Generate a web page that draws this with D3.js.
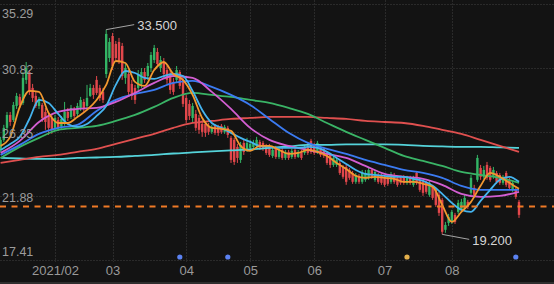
<!DOCTYPE html>
<html>
<head>
<meta charset="utf-8">
<script src="https://cdn.jsdelivr.net/npm/d3@7"></script>
<style>
  html, body { margin: 0; padding: 0; background: #131313; overflow: hidden; }
  svg { display: block; }
</style>
</head>
<body>
<script>
"use strict";

// daily candles, mid Jan 2021 -> end Aug 2021 (163 sessions)
const opens = [
  25.10,25.80,26.64,27.54,27.19,28.17,28.80,28.38,29.99,30.54,
  29.43,28.87,28.17,28.24,27.75,27.47,27.33,26.64,27.19,26.71,
  26.91,27.75,27.40,27.89,27.61,28.03,28.45,28.17,28.87,29.43,
  29.99,29.43,29.15,30.40,31.52,33.06,32.50,32.64,32.36,30.13,
  30.40,29.71,29.43,29.43,29.71,30.54,30.26,30.82,31.38,31.94,
  30.82,31.24,30.68,30.40,29.85,29.99,30.54,29.99,28.73,28.31,
  27.33,27.61,27.33,26.91,26.91,26.78,26.36,26.78,26.71,26.78,
  26.36,26.64,25.94,25.80,25.31,24.40,25.59,25.10,25.24,25.31,
  25.38,25.66,25.59,25.38,25.38,24.68,25.24,24.61,25.10,24.54,
  24.96,24.61,25.10,24.61,24.96,24.89,25.31,25.73,25.45,24.96,
  25.24,25.17,24.89,24.75,24.05,24.05,24.19,23.91,23.91,23.70,
  23.49,22.87,23.29,22.87,23.01,23.15,23.70,23.01,23.35,23.29,
  23.22,23.15,22.87,23.35,23.15,23.15,23.22,22.80,23.15,22.66,
  23.49,23.01,22.87,22.80,21.96,22.52,22.31,21.96,21.61,19.52,
  20.00,20.07,20.56,20.77,20.91,21.05,21.47,22.10,22.45,23.01,
  23.84,23.22,24.05,23.84,23.22,23.49,23.35,22.80,23.49,23.01,
  22.31,22.31,21.47];
const closes = [
  25.80,26.64,27.54,27.05,28.24,28.87,28.24,30.13,30.82,29.15,
  28.73,28.17,28.66,27.33,27.05,26.64,26.50,27.33,26.64,27.26,
  27.75,27.33,28.03,27.47,28.17,28.59,27.96,28.73,29.43,28.94,
  29.08,28.73,28.59,33.20,32.64,30.96,31.52,31.24,30.26,30.82,
  29.15,28.87,28.59,30.40,30.54,29.99,30.96,31.73,32.22,31.10,
  31.38,30.40,29.99,29.29,29.15,30.68,29.57,28.31,27.19,27.47,
  28.17,26.64,26.50,26.36,26.29,26.36,26.71,26.29,26.29,26.36,
  26.71,26.15,24.40,24.26,24.54,25.45,24.96,25.59,25.52,25.59,
  25.80,25.24,25.17,24.89,24.75,25.10,24.61,25.10,24.54,24.96,
  24.54,25.03,24.61,24.96,24.54,25.31,24.89,24.96,24.89,25.59,
  24.75,24.68,24.19,24.05,24.54,24.40,23.49,23.22,22.87,23.15,
  22.87,23.35,22.87,23.56,23.49,23.70,23.22,23.56,22.87,22.80,
  22.66,22.73,23.42,22.87,22.66,22.80,22.80,23.15,22.80,23.15,
  22.80,22.31,22.10,22.17,22.80,21.75,21.26,20.70,19.38,19.86,
  20.42,20.77,20.07,21.40,21.47,21.75,21.12,23.15,21.96,24.54,
  23.22,23.70,23.15,23.01,23.70,22.87,22.80,23.22,22.66,22.45,
  22.80,21.82,20.56];
const highs = [
  26.01,26.85,27.75,27.75,28.45,29.08,29.01,30.54,31.24,30.68,
  29.71,29.15,28.80,28.38,28.03,27.68,27.54,27.54,27.40,27.47,
  28.45,28.03,28.24,28.10,28.38,28.80,28.66,29.64,29.71,29.64,
  30.26,29.64,29.43,33.50,32.92,33.27,32.71,32.92,32.57,31.10,
  30.68,29.99,29.64,30.68,30.82,30.82,31.17,31.94,32.43,32.22,
  31.66,31.52,30.96,30.68,30.13,30.96,30.68,30.26,28.94,28.59,
  28.38,27.89,27.54,27.19,27.12,26.98,26.85,26.91,26.85,26.91,
  26.85,26.78,26.08,25.94,25.52,25.66,25.80,25.94,25.80,25.80,
  26.01,25.80,25.73,25.52,25.52,25.24,25.38,25.24,25.24,25.10,
  25.10,25.17,25.24,25.10,25.10,25.45,25.66,25.87,25.59,25.73,
  25.38,25.31,25.03,24.89,24.68,24.54,24.33,24.05,24.05,23.84,
  23.63,23.49,23.42,23.70,23.70,23.84,23.84,23.70,23.49,23.42,
  23.35,23.29,23.56,23.49,23.29,23.29,23.35,23.29,23.29,23.29,
  23.63,23.15,23.01,22.94,22.94,22.66,22.45,22.17,21.75,20.07,
  20.63,20.91,20.70,21.61,21.68,21.96,21.61,23.35,22.66,24.75,
  24.05,23.98,24.26,23.98,23.91,23.63,23.49,23.35,23.63,23.15,
  22.94,22.45,21.61];
const lows = [
  24.96,25.66,26.50,26.78,27.05,27.96,28.03,28.24,29.71,28.94,
  28.45,28.03,27.96,27.05,26.50,26.15,26.22,26.43,26.43,26.57,
  26.78,27.12,27.26,27.33,27.40,27.82,27.75,28.03,28.80,28.66,
  28.94,28.52,28.38,30.13,31.24,30.68,31.38,31.10,29.99,29.71,
  28.87,28.59,28.31,29.15,29.43,29.78,29.99,30.54,31.17,30.89,
  30.54,30.13,29.71,29.01,28.94,29.78,29.36,28.10,26.98,27.19,
  27.05,26.43,26.22,26.01,26.01,26.15,26.22,26.15,26.08,26.22,
  26.22,25.94,24.19,24.05,24.19,24.19,24.75,24.96,25.10,25.17,
  25.24,25.10,25.03,24.75,24.61,24.54,24.47,24.47,24.40,24.40,
  24.40,24.47,24.47,24.54,24.40,24.75,24.75,24.82,24.75,24.82,
  24.61,24.54,24.05,23.84,23.91,23.91,23.35,23.08,22.66,23.01,
  22.73,22.73,22.73,22.73,22.87,23.01,23.08,22.87,22.73,22.66,
  22.52,22.59,22.73,22.73,22.52,22.66,22.66,22.66,22.66,22.52,
  22.66,22.17,21.89,22.03,21.82,21.61,21.12,20.49,19.20,19.31,
  19.79,19.93,19.93,20.63,20.77,20.91,20.98,21.96,21.82,22.87,
  23.01,23.08,23.01,22.87,23.08,22.73,22.66,22.66,22.52,22.31,
  22.17,21.68,20.35];

const fastIdx = d3.range(0, 163, 3);
const slowIdx = d3.range(0, 163, 6);
const ma5 = [25.38,26.01,28.10,29.22,29.15,27.68,26.98,26.98,27.40,27.89,
  28.59,29.64,31.31,31.17,29.85,29.57,30.68,31.24,30.40,29.99,
  28.94,27.33,26.64,26.57,26.43,25.38,25.03,25.38,25.38,25.10,
  24.82,24.89,25.10,24.96,24.68,24.19,23.77,23.29,23.15,23.22,
  23.15,23.08,22.87,22.87,22.73,22.52,21.26,20.07,20.77,21.47,
  22.59,23.49,23.22,22.80,22.38];
const ma10 = [25.10,25.52,26.01,27.26,28.59,28.38,27.61,26.91,26.71,26.91,
  27.47,28.17,29.64,30.61,30.47,30.13,30.06,30.26,30.40,30.26,
  29.22,27.89,26.98,26.64,26.29,25.94,25.66,25.38,25.31,25.24,
  25.24,25.24,25.31,25.24,24.96,24.54,24.12,23.70,23.42,23.35,
  23.29,23.22,23.22,23.08,22.94,22.59,22.03,21.40,20.91,20.77,
  21.54,22.31,23.01,23.22,22.87];
const ma20 = [24.89,25.73,27.05,27.75,27.96,28.03,28.45,29.08,29.78,30.26,
  30.13,29.15,27.96,26.64,25.80,25.38,25.10,24.82,24.54,23.98,
  23.42,23.22,23.08,22.66,22.03,21.82,21.89,22.17];
const ma30 = [24.75,25.45,26.22,26.64,26.85,27.82,28.59,29.01,29.29,29.78,
  29.92,29.50,28.94,28.24,27.26,26.29,25.59,25.17,24.82,24.40,
  24.05,23.70,23.49,23.15,22.59,22.31,22.31,22.31];
const ma60 = [24.54,25.31,25.94,26.50,26.64,26.78,27.12,27.54,28.10,28.73,
  29.08,28.94,28.80,28.59,28.38,28.03,27.61,26.98,26.36,25.80,
  25.24,24.68,24.33,23.98,23.56,23.35,23.15,22.80];
const ma120 = [24.19,24.40,24.61,24.75,24.96,25.17,25.52,25.87,26.22,26.64,
  26.98,27.12,27.26,27.33,27.40,27.40,27.40,27.33,27.26,27.12,
  27.05,26.98,26.78,26.50,26.22,25.80,25.38,24.96];
const ma250 = [24.54,24.50,24.47,24.47,24.54,24.57,24.61,24.68,24.75,24.85,
  24.92,24.99,25.06,25.13,25.24,25.34,25.45,25.45,25.48,25.48,
  25.48,25.45,25.38,25.34,25.31,25.31,25.27,25.24];

const yTicks = [17.41, 21.88, 26.35, 30.82, 35.29];
const monthIdx = [17, 35, 58, 78, 98, 120, 141];
const monthLabels = ["2021/02", "03", "04", "05", "06", "07", "08"];
const eventIdx = [56, 71, 127, 161];
const eventKind = ["blue", "blue", "yellow", "blue"];
const refPrice = 21.15;

const width = 554, height = 284;
const font = "'Liberation Sans', Arial, sans-serif";
const upColor = "#33b565", downColor = "#e2474b";

const svg = d3.select("body").append("svg")
    .attr("width", width)
    .attr("height", height);

svg.append("rect")
    .attr("width", width)
    .attr("height", height)
    .attr("fill", "#131313");

const x = d3.scaleLinear().domain([0, closes.length - 1]).range([0.6, 519]);
const y = d3.scaleLinear().domain([17.41, 35.29]).range([260, 4]);

// grid
svg.append("g").selectAll("line").data(yTicks).join("line")
    .attr("x1", 0).attr("x2", width)
    .attr("y1", d => Math.round(y(d)) + 0.5)
    .attr("y2", d => Math.round(y(d)) + 0.5)
    .attr("stroke", "#2a2a2a")
    .attr("stroke-dasharray", "2,1");
svg.append("g").selectAll("line").data(monthIdx).join("line")
    .attr("x1", d => Math.round(x(d)) + 0.5)
    .attr("x2", d => Math.round(x(d)) + 0.5)
    .attr("y1", 0).attr("y2", 262)
    .attr("stroke", "#2a2a2a")
    .attr("stroke-dasharray", "2,1");

// candles
const candles = svg.append("g").selectAll("g").data(closes).join("g")
    .attr("fill", (c, i) => c >= opens[i] ? upColor : downColor)
    .attr("stroke", (c, i) => c >= opens[i] ? upColor : downColor);
candles.append("line")
    .attr("x1", (c, i) => x(i)).attr("x2", (c, i) => x(i))
    .attr("y1", (c, i) => y(highs[i]))
    .attr("y2", (c, i) => y(lows[i]))
    .attr("stroke-width", 1);
candles.append("rect")
    .attr("stroke", "none")
    .attr("x", (c, i) => x(i) - 1.2)
    .attr("width", 2.4)
    .attr("y", (c, i) => y(Math.max(c, opens[i])))
    .attr("height", (c, i) => Math.max(1, Math.abs(y(c) - y(opens[i]))));

// moving averages
const maSeries = [
  {vals: ma250, idx: slowIdx, color: "#55d3da"},
  {vals: ma120, idx: slowIdx, color: "#e0504f"},
  {vals: ma60, idx: slowIdx, color: "#3ab466"},
  {vals: ma30, idx: slowIdx, color: "#3b7bf2"},
  {vals: ma20, idx: slowIdx, color: "#d35ed2"},
  {vals: ma10, idx: fastIdx, color: "#45b4ef"},
  {vals: ma5, idx: fastIdx, color: "#f2982f"}
];
maSeries.forEach(s => {
  const line = d3.line()
      .x((d, k) => x(s.idx[k]))
      .y(d => y(d))
      .curve(d3.curveMonotoneX);
  svg.append("path")
      .attr("d", line(s.vals))
      .attr("fill", "none")
      .attr("stroke", s.color)
      .attr("stroke-width", 1.8);
});

// reference price dashed line
svg.append("line")
    .attr("x1", 0).attr("x2", width)
    .attr("y1", y(refPrice)).attr("y2", y(refPrice))
    .attr("stroke", "#f07a26")
    .attr("stroke-width", 2)
    .attr("stroke-dasharray", "6,5.5");

// max / min labels
const maxI = d3.maxIndex(highs), minI = d3.minIndex(lows);
const fmt = d3.format(".3f");
const notes = [
  {i: maxI, v: highs[maxI], dx: 28, dy: -5},
  {i: minI, v: lows[minI], dx: 27, dy: 5}
];
notes.forEach(n => {
  const x0 = x(n.i), y0 = y(n.v);
  svg.append("line")
      .attr("x1", x0).attr("y1", y0)
      .attr("x2", x0 + n.dx).attr("y2", y0 + n.dy)
      .attr("stroke", "#a5a5a5")
      .attr("stroke-width", 1);
  svg.append("text")
      .attr("x", x0 + n.dx + 3)
      .attr("y", y0 + n.dy + 1)
      .attr("dy", "0.35em")
      .attr("fill", "#d6d6d6")
      .style("font", "13px " + font)
      .text(fmt(n.v));
});

// event dots
svg.append("g").selectAll("circle").data(eventIdx).join("circle")
    .attr("cx", d => x(d))
    .attr("cy", 257)
    .attr("r", 2.6)
    .attr("fill", (d, k) => eventKind[k] === "yellow" ? "#e4b04c" : "#5b82f2");

// y axis labels
const yAxis = svg.append("g")
    .call(d3.axisRight(y).tickValues(yTicks).tickSize(0).tickPadding(2)
      .tickFormat(d3.format(".2f")));
yAxis.select(".domain").remove();
yAxis.selectAll("text")
    .attr("fill", "#9c9c9c")
    .style("font", "12.5px " + font)
    .attr("dy", d => d === 35.29 ? "1.07em" : d === 17.41 ? "-0.35em" : "0.45em");

// x axis labels
const xAxis = svg.append("g")
    .attr("transform", "translate(0,270)")
    .call(d3.axisBottom(x).tickValues(monthIdx).tickSize(0).tickPadding(0)
      .tickFormat((d, k) => monthLabels[k]));
xAxis.select(".domain").remove();
xAxis.selectAll("text")
    .attr("y", 0)
    .attr("dy", "0.35em")
    .attr("fill", "#9a9a9a")
    .style("font", "13px " + font);

svg.append("rect")
    .attr("y", 282).attr("width", width).attr("height", 2)
    .attr("fill", "#2e2e2e");
</script>
</body>
</html>
